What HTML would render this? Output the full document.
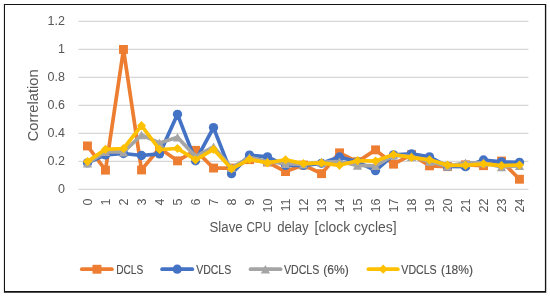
<!DOCTYPE html>
<html><head><meta charset="utf-8"><title>Chart</title>
<style>html,body{margin:0;padding:0;background:#fff;}svg{display:block;}text{stroke:#505050;stroke-width:.15px;}.t text,text.a{stroke:none;fill:#575757;}</style></head>
<body>
<svg width="550" height="296" viewBox="0 0 550 296" font-family='"Liberation Sans", sans-serif' fill="#505050">
<rect x="0" y="0" width="550" height="296" fill="#fff"/>
<path d="M3.9 3.95H546.25V292.65H3.9Z M5.0 5.0V290.9H544.9V5.0Z" fill="#141414" fill-rule="evenodd"/>
<line x1="78.5" x2="528.4" y1="189.4" y2="189.4" stroke="#D6D6D6" stroke-width="1.25"/>
<line x1="78.5" x2="528.4" y1="161.4" y2="161.4" stroke="#D6D6D6" stroke-width="1.25"/>
<line x1="78.5" x2="528.4" y1="133.4" y2="133.4" stroke="#D6D6D6" stroke-width="1.25"/>
<line x1="78.5" x2="528.4" y1="105.4" y2="105.4" stroke="#D6D6D6" stroke-width="1.25"/>
<line x1="78.5" x2="528.4" y1="77.4" y2="77.4" stroke="#D6D6D6" stroke-width="1.25"/>
<line x1="78.5" x2="528.4" y1="49.4" y2="49.4" stroke="#D6D6D6" stroke-width="1.25"/>
<line x1="78.5" x2="528.4" y1="21.4" y2="21.4" stroke="#D6D6D6" stroke-width="1.25"/>
<g class="t">
<text x="65" y="193.4" font-size="12.5" text-anchor="end">0</text>
<text x="65" y="165.4" font-size="12.5" text-anchor="end">0.2</text>
<text x="65" y="137.4" font-size="12.5" text-anchor="end">0.4</text>
<text x="65" y="109.4" font-size="12.5" text-anchor="end">0.6</text>
<text x="65" y="81.4" font-size="12.5" text-anchor="end">0.8</text>
<text x="65" y="53.4" font-size="12.5" text-anchor="end">1</text>
<text x="65" y="25.4" font-size="12.5" text-anchor="end">1.2</text>
<text transform="translate(91.95,198.5) rotate(-90)" font-size="12.5" text-anchor="end">0</text>
<text transform="translate(109.95,198.5) rotate(-90)" font-size="12.5" text-anchor="end">1</text>
<text transform="translate(127.95,198.5) rotate(-90)" font-size="12.5" text-anchor="end">2</text>
<text transform="translate(145.95,198.5) rotate(-90)" font-size="12.5" text-anchor="end">3</text>
<text transform="translate(163.95,198.5) rotate(-90)" font-size="12.5" text-anchor="end">4</text>
<text transform="translate(181.95,198.5) rotate(-90)" font-size="12.5" text-anchor="end">5</text>
<text transform="translate(199.95,198.5) rotate(-90)" font-size="12.5" text-anchor="end">6</text>
<text transform="translate(217.95,198.5) rotate(-90)" font-size="12.5" text-anchor="end">7</text>
<text transform="translate(235.95,198.5) rotate(-90)" font-size="12.5" text-anchor="end">8</text>
<text transform="translate(253.95,198.5) rotate(-90)" font-size="12.5" text-anchor="end">9</text>
<text transform="translate(271.95,198.5) rotate(-90)" font-size="12.5" text-anchor="end">10</text>
<text transform="translate(289.95,198.5) rotate(-90)" font-size="12.5" text-anchor="end">11</text>
<text transform="translate(307.95,198.5) rotate(-90)" font-size="12.5" text-anchor="end">12</text>
<text transform="translate(325.95,198.5) rotate(-90)" font-size="12.5" text-anchor="end">13</text>
<text transform="translate(343.95,198.5) rotate(-90)" font-size="12.5" text-anchor="end">14</text>
<text transform="translate(361.95,198.5) rotate(-90)" font-size="12.5" text-anchor="end">15</text>
<text transform="translate(379.95,198.5) rotate(-90)" font-size="12.5" text-anchor="end">16</text>
<text transform="translate(397.95,198.5) rotate(-90)" font-size="12.5" text-anchor="end">17</text>
<text transform="translate(415.95,198.5) rotate(-90)" font-size="12.5" text-anchor="end">18</text>
<text transform="translate(433.95,198.5) rotate(-90)" font-size="12.5" text-anchor="end">19</text>
<text transform="translate(451.95,198.5) rotate(-90)" font-size="12.5" text-anchor="end">20</text>
<text transform="translate(469.95,198.5) rotate(-90)" font-size="12.5" text-anchor="end">21</text>
<text transform="translate(487.95,198.5) rotate(-90)" font-size="12.5" text-anchor="end">22</text>
<text transform="translate(505.95,198.5) rotate(-90)" font-size="12.5" text-anchor="end">23</text>
<text transform="translate(523.95,198.5) rotate(-90)" font-size="12.5" text-anchor="end">24</text>
</g>
<text class="a" y="232.3" font-size="14"><tspan x="209.5" textLength="33.2" lengthAdjust="spacingAndGlyphs">Slave</tspan> <tspan x="246.4" textLength="24.8" lengthAdjust="spacingAndGlyphs">CPU</tspan> <tspan x="277.2" textLength="31.5" lengthAdjust="spacingAndGlyphs">delay</tspan> <tspan x="314.6" textLength="35.6" lengthAdjust="spacingAndGlyphs">[clock</tspan> <tspan x="354.0" textLength="42.6" lengthAdjust="spacingAndGlyphs">cycles]</tspan></text>
<text class="a" transform="translate(38.1,105.3) rotate(-90)" font-size="14.2" text-anchor="middle" textLength="72" lengthAdjust="spacingAndGlyphs">Correlation</text>
<g>
<polyline points="87.5,146.0 105.5,170.2 123.5,49.5 141.5,169.9 159.5,148.2 177.5,160.8 195.5,150.3 213.5,168.1 231.5,168.1 249.5,159.7 267.5,162.1 285.5,171.6 303.5,165.0 321.5,173.7 339.5,152.8 357.5,161.8 375.5,149.9 393.5,164.2 411.5,154.6 429.5,165.8 447.5,166.7 465.5,164.9 483.5,165.7 501.5,161.1 519.5,179.3" fill="none" stroke="#ED7D31" stroke-width="3.7" stroke-linejoin="round" stroke-linecap="round"/>
<rect x="83.0" y="141.5" width="8.9" height="8.9" fill="#ED7D31"/>
<rect x="101.0" y="165.7" width="8.9" height="8.9" fill="#ED7D31"/>
<rect x="119.0" y="45.0" width="8.9" height="8.9" fill="#ED7D31"/>
<rect x="137.1" y="165.5" width="8.9" height="8.9" fill="#ED7D31"/>
<rect x="155.1" y="143.8" width="8.9" height="8.9" fill="#ED7D31"/>
<rect x="173.1" y="156.4" width="8.9" height="8.9" fill="#ED7D31"/>
<rect x="191.1" y="145.9" width="8.9" height="8.9" fill="#ED7D31"/>
<rect x="209.1" y="163.6" width="8.9" height="8.9" fill="#ED7D31"/>
<rect x="227.1" y="163.6" width="8.9" height="8.9" fill="#ED7D31"/>
<rect x="245.1" y="155.2" width="8.9" height="8.9" fill="#ED7D31"/>
<rect x="263.1" y="157.6" width="8.9" height="8.9" fill="#ED7D31"/>
<rect x="281.1" y="167.1" width="8.9" height="8.9" fill="#ED7D31"/>
<rect x="299.1" y="160.6" width="8.9" height="8.9" fill="#ED7D31"/>
<rect x="317.1" y="169.2" width="8.9" height="8.9" fill="#ED7D31"/>
<rect x="335.1" y="148.4" width="8.9" height="8.9" fill="#ED7D31"/>
<rect x="353.1" y="157.3" width="8.9" height="8.9" fill="#ED7D31"/>
<rect x="371.1" y="145.4" width="8.9" height="8.9" fill="#ED7D31"/>
<rect x="389.1" y="159.7" width="8.9" height="8.9" fill="#ED7D31"/>
<rect x="407.1" y="150.2" width="8.9" height="8.9" fill="#ED7D31"/>
<rect x="425.1" y="161.4" width="8.9" height="8.9" fill="#ED7D31"/>
<rect x="443.1" y="162.2" width="8.9" height="8.9" fill="#ED7D31"/>
<rect x="461.1" y="160.4" width="8.9" height="8.9" fill="#ED7D31"/>
<rect x="479.1" y="161.2" width="8.9" height="8.9" fill="#ED7D31"/>
<rect x="497.1" y="156.6" width="8.9" height="8.9" fill="#ED7D31"/>
<rect x="515.0" y="174.8" width="8.9" height="8.9" fill="#ED7D31"/>
</g>
<g>
<polyline points="87.5,162.9 105.5,154.9 123.5,153.5 141.5,155.5 159.5,153.9 177.5,114.3 195.5,160.8 213.5,127.6 231.5,173.7 249.5,155.1 267.5,156.9 285.5,165.4 303.5,165.4 321.5,163.3 339.5,157.0 357.5,161.9 375.5,170.6 393.5,154.9 411.5,153.8 429.5,156.9 447.5,166.4 465.5,166.7 483.5,160.0 501.5,161.9 519.5,162.3" fill="none" stroke="#4472C4" stroke-width="3.7" stroke-linejoin="round" stroke-linecap="round"/>
<circle cx="87.5" cy="162.9" r="4.65" fill="#4472C4"/>
<circle cx="105.5" cy="154.9" r="4.65" fill="#4472C4"/>
<circle cx="123.5" cy="153.5" r="4.65" fill="#4472C4"/>
<circle cx="141.5" cy="155.5" r="4.65" fill="#4472C4"/>
<circle cx="159.5" cy="153.9" r="4.65" fill="#4472C4"/>
<circle cx="177.5" cy="114.3" r="4.65" fill="#4472C4"/>
<circle cx="195.5" cy="160.8" r="4.65" fill="#4472C4"/>
<circle cx="213.5" cy="127.6" r="4.65" fill="#4472C4"/>
<circle cx="231.5" cy="173.7" r="4.65" fill="#4472C4"/>
<circle cx="249.5" cy="155.1" r="4.65" fill="#4472C4"/>
<circle cx="267.5" cy="156.9" r="4.65" fill="#4472C4"/>
<circle cx="285.5" cy="165.4" r="4.65" fill="#4472C4"/>
<circle cx="303.5" cy="165.4" r="4.65" fill="#4472C4"/>
<circle cx="321.5" cy="163.3" r="4.65" fill="#4472C4"/>
<circle cx="339.5" cy="157.0" r="4.65" fill="#4472C4"/>
<circle cx="357.5" cy="161.9" r="4.65" fill="#4472C4"/>
<circle cx="375.5" cy="170.6" r="4.65" fill="#4472C4"/>
<circle cx="393.5" cy="154.9" r="4.65" fill="#4472C4"/>
<circle cx="411.5" cy="153.8" r="4.65" fill="#4472C4"/>
<circle cx="429.5" cy="156.9" r="4.65" fill="#4472C4"/>
<circle cx="447.5" cy="166.4" r="4.65" fill="#4472C4"/>
<circle cx="465.5" cy="166.7" r="4.65" fill="#4472C4"/>
<circle cx="483.5" cy="160.0" r="4.65" fill="#4472C4"/>
<circle cx="501.5" cy="161.9" r="4.65" fill="#4472C4"/>
<circle cx="519.5" cy="162.3" r="4.65" fill="#4472C4"/>
</g>
<g>
<polyline points="87.5,163.3 105.5,151.7 123.5,152.1 141.5,135.0 159.5,142.9 177.5,137.3 195.5,156.6 213.5,146.8 231.5,167.8 249.5,157.3 267.5,161.5 285.5,163.6 303.5,164.3 321.5,162.2 339.5,161.5 357.5,165.4 375.5,165.8 393.5,155.2 411.5,156.6 429.5,161.5 447.5,166.4 465.5,162.9 483.5,162.9 501.5,167.0 519.5,165.7" fill="none" stroke="#A5A5A5" stroke-width="3.7" stroke-linejoin="round" stroke-linecap="round"/>
<polygon points="87.5,159.0 92.1,167.6 82.9,167.6" fill="#A5A5A5"/>
<polygon points="105.5,147.4 110.1,156.0 100.9,156.0" fill="#A5A5A5"/>
<polygon points="123.5,147.8 128.1,156.4 118.9,156.4" fill="#A5A5A5"/>
<polygon points="141.5,130.7 146.1,139.3 136.9,139.3" fill="#A5A5A5"/>
<polygon points="159.5,138.6 164.1,147.2 154.9,147.2" fill="#A5A5A5"/>
<polygon points="177.5,133.0 182.1,141.6 172.9,141.6" fill="#A5A5A5"/>
<polygon points="195.5,152.3 200.1,160.9 190.9,160.9" fill="#A5A5A5"/>
<polygon points="213.5,142.5 218.1,151.1 208.9,151.1" fill="#A5A5A5"/>
<polygon points="231.5,163.5 236.1,172.1 226.9,172.1" fill="#A5A5A5"/>
<polygon points="249.5,153.0 254.1,161.6 244.9,161.6" fill="#A5A5A5"/>
<polygon points="267.5,157.2 272.1,165.8 262.9,165.8" fill="#A5A5A5"/>
<polygon points="285.5,159.3 290.1,167.9 280.9,167.9" fill="#A5A5A5"/>
<polygon points="303.5,160.0 308.1,168.6 298.9,168.6" fill="#A5A5A5"/>
<polygon points="321.5,157.9 326.1,166.5 316.9,166.5" fill="#A5A5A5"/>
<polygon points="339.5,157.2 344.1,165.8 334.9,165.8" fill="#A5A5A5"/>
<polygon points="357.5,161.1 362.1,169.7 352.9,169.7" fill="#A5A5A5"/>
<polygon points="375.5,161.5 380.1,170.1 370.9,170.1" fill="#A5A5A5"/>
<polygon points="393.5,150.9 398.1,159.5 388.9,159.5" fill="#A5A5A5"/>
<polygon points="411.5,152.3 416.1,160.9 406.9,160.9" fill="#A5A5A5"/>
<polygon points="429.5,157.2 434.1,165.8 424.9,165.8" fill="#A5A5A5"/>
<polygon points="447.5,162.1 452.1,170.7 442.9,170.7" fill="#A5A5A5"/>
<polygon points="465.5,158.6 470.1,167.2 460.9,167.2" fill="#A5A5A5"/>
<polygon points="483.5,158.6 488.1,167.2 478.9,167.2" fill="#A5A5A5"/>
<polygon points="501.5,162.7 506.1,171.3 496.9,171.3" fill="#A5A5A5"/>
<polygon points="519.5,161.4 524.1,170.0 514.9,170.0" fill="#A5A5A5"/>
</g>
<g>
<polyline points="87.5,161.5 105.5,149.3 123.5,148.5 141.5,125.7 159.5,149.5 177.5,148.5 195.5,159.8 213.5,149.3 231.5,168.8 249.5,159.3 267.5,162.9 285.5,159.8 303.5,163.6 321.5,162.9 339.5,165.3 357.5,160.7 375.5,161.1 393.5,154.5 411.5,157.4 429.5,159.8 447.5,165.1 465.5,165.4 483.5,163.9 501.5,165.7 519.5,165.0" fill="none" stroke="#FFC000" stroke-width="3.7" stroke-linejoin="round" stroke-linecap="round"/>
<polygon points="87.5,156.9 92.1,161.5 87.5,166.1 82.9,161.5" fill="#FFC000"/>
<polygon points="105.5,144.7 110.1,149.3 105.5,153.9 100.9,149.3" fill="#FFC000"/>
<polygon points="123.5,143.9 128.1,148.5 123.5,153.1 118.9,148.5" fill="#FFC000"/>
<polygon points="141.5,121.1 146.1,125.7 141.5,130.3 136.9,125.7" fill="#FFC000"/>
<polygon points="159.5,144.9 164.1,149.5 159.5,154.1 154.9,149.5" fill="#FFC000"/>
<polygon points="177.5,143.9 182.1,148.5 177.5,153.1 172.9,148.5" fill="#FFC000"/>
<polygon points="195.5,155.2 200.1,159.8 195.5,164.4 190.9,159.8" fill="#FFC000"/>
<polygon points="213.5,144.7 218.1,149.3 213.5,153.9 208.9,149.3" fill="#FFC000"/>
<polygon points="231.5,164.2 236.1,168.8 231.5,173.4 226.9,168.8" fill="#FFC000"/>
<polygon points="249.5,154.7 254.1,159.3 249.5,163.9 244.9,159.3" fill="#FFC000"/>
<polygon points="267.5,158.3 272.1,162.9 267.5,167.5 262.9,162.9" fill="#FFC000"/>
<polygon points="285.5,155.2 290.1,159.8 285.5,164.4 280.9,159.8" fill="#FFC000"/>
<polygon points="303.5,159.0 308.1,163.6 303.5,168.2 298.9,163.6" fill="#FFC000"/>
<polygon points="321.5,158.3 326.1,162.9 321.5,167.5 316.9,162.9" fill="#FFC000"/>
<polygon points="339.5,160.7 344.1,165.3 339.5,169.9 334.9,165.3" fill="#FFC000"/>
<polygon points="357.5,156.1 362.1,160.7 357.5,165.3 352.9,160.7" fill="#FFC000"/>
<polygon points="375.5,156.5 380.1,161.1 375.5,165.7 370.9,161.1" fill="#FFC000"/>
<polygon points="393.5,149.9 398.1,154.5 393.5,159.1 388.9,154.5" fill="#FFC000"/>
<polygon points="411.5,152.8 416.1,157.4 411.5,162.0 406.9,157.4" fill="#FFC000"/>
<polygon points="429.5,155.2 434.1,159.8 429.5,164.4 424.9,159.8" fill="#FFC000"/>
<polygon points="447.5,160.5 452.1,165.1 447.5,169.7 442.9,165.1" fill="#FFC000"/>
<polygon points="465.5,160.8 470.1,165.4 465.5,170.0 460.9,165.4" fill="#FFC000"/>
<polygon points="483.5,159.3 488.1,163.9 483.5,168.5 478.9,163.9" fill="#FFC000"/>
<polygon points="501.5,161.1 506.1,165.7 501.5,170.3 496.9,165.7" fill="#FFC000"/>
<polygon points="519.5,160.4 524.1,165.0 519.5,169.6 514.9,165.0" fill="#FFC000"/>
</g>
<line x1="81.8" x2="111.9" y1="269.2" y2="269.2" stroke="#ED7D31" stroke-width="3.7" stroke-linecap="round"/>
<rect x="92.5" y="264.8" width="8.9" height="8.9" fill="#ED7D31"/>
<text y="273.6" font-size="12"><tspan x="116.2" textLength="27" lengthAdjust="spacingAndGlyphs">DCLS</tspan></text>
<line x1="162.1" x2="192.3" y1="269.2" y2="269.2" stroke="#4472C4" stroke-width="3.7" stroke-linecap="round"/>
<circle cx="177.2" cy="269.2" r="4.65" fill="#4472C4"/>
<text y="273.6" font-size="12"><tspan x="196.2" textLength="35" lengthAdjust="spacingAndGlyphs">VDCLS</tspan></text>
<line x1="250.5" x2="280.6" y1="269.2" y2="269.2" stroke="#A5A5A5" stroke-width="3.7" stroke-linecap="round"/>
<polygon points="265.4,264.9 270.0,273.5 260.8,273.5" fill="#A5A5A5"/>
<text y="273.6" font-size="12"><tspan x="284.0" textLength="35.3" lengthAdjust="spacingAndGlyphs">VDCLS</tspan> <tspan x="323.2" textLength="25.6" lengthAdjust="spacingAndGlyphs">(6%)</tspan></text>
<line x1="368.4" x2="397.8" y1="269.2" y2="269.2" stroke="#FFC000" stroke-width="3.7" stroke-linecap="round"/>
<polygon points="383.2,264.6 387.8,269.2 383.2,273.8 378.6,269.2" fill="#FFC000"/>
<text y="273.6" font-size="12"><tspan x="401.3" textLength="35.4" lengthAdjust="spacingAndGlyphs">VDCLS</tspan> <tspan x="440.9" textLength="32.0" lengthAdjust="spacingAndGlyphs">(18%)</tspan></text>
</svg>
</body></html>
